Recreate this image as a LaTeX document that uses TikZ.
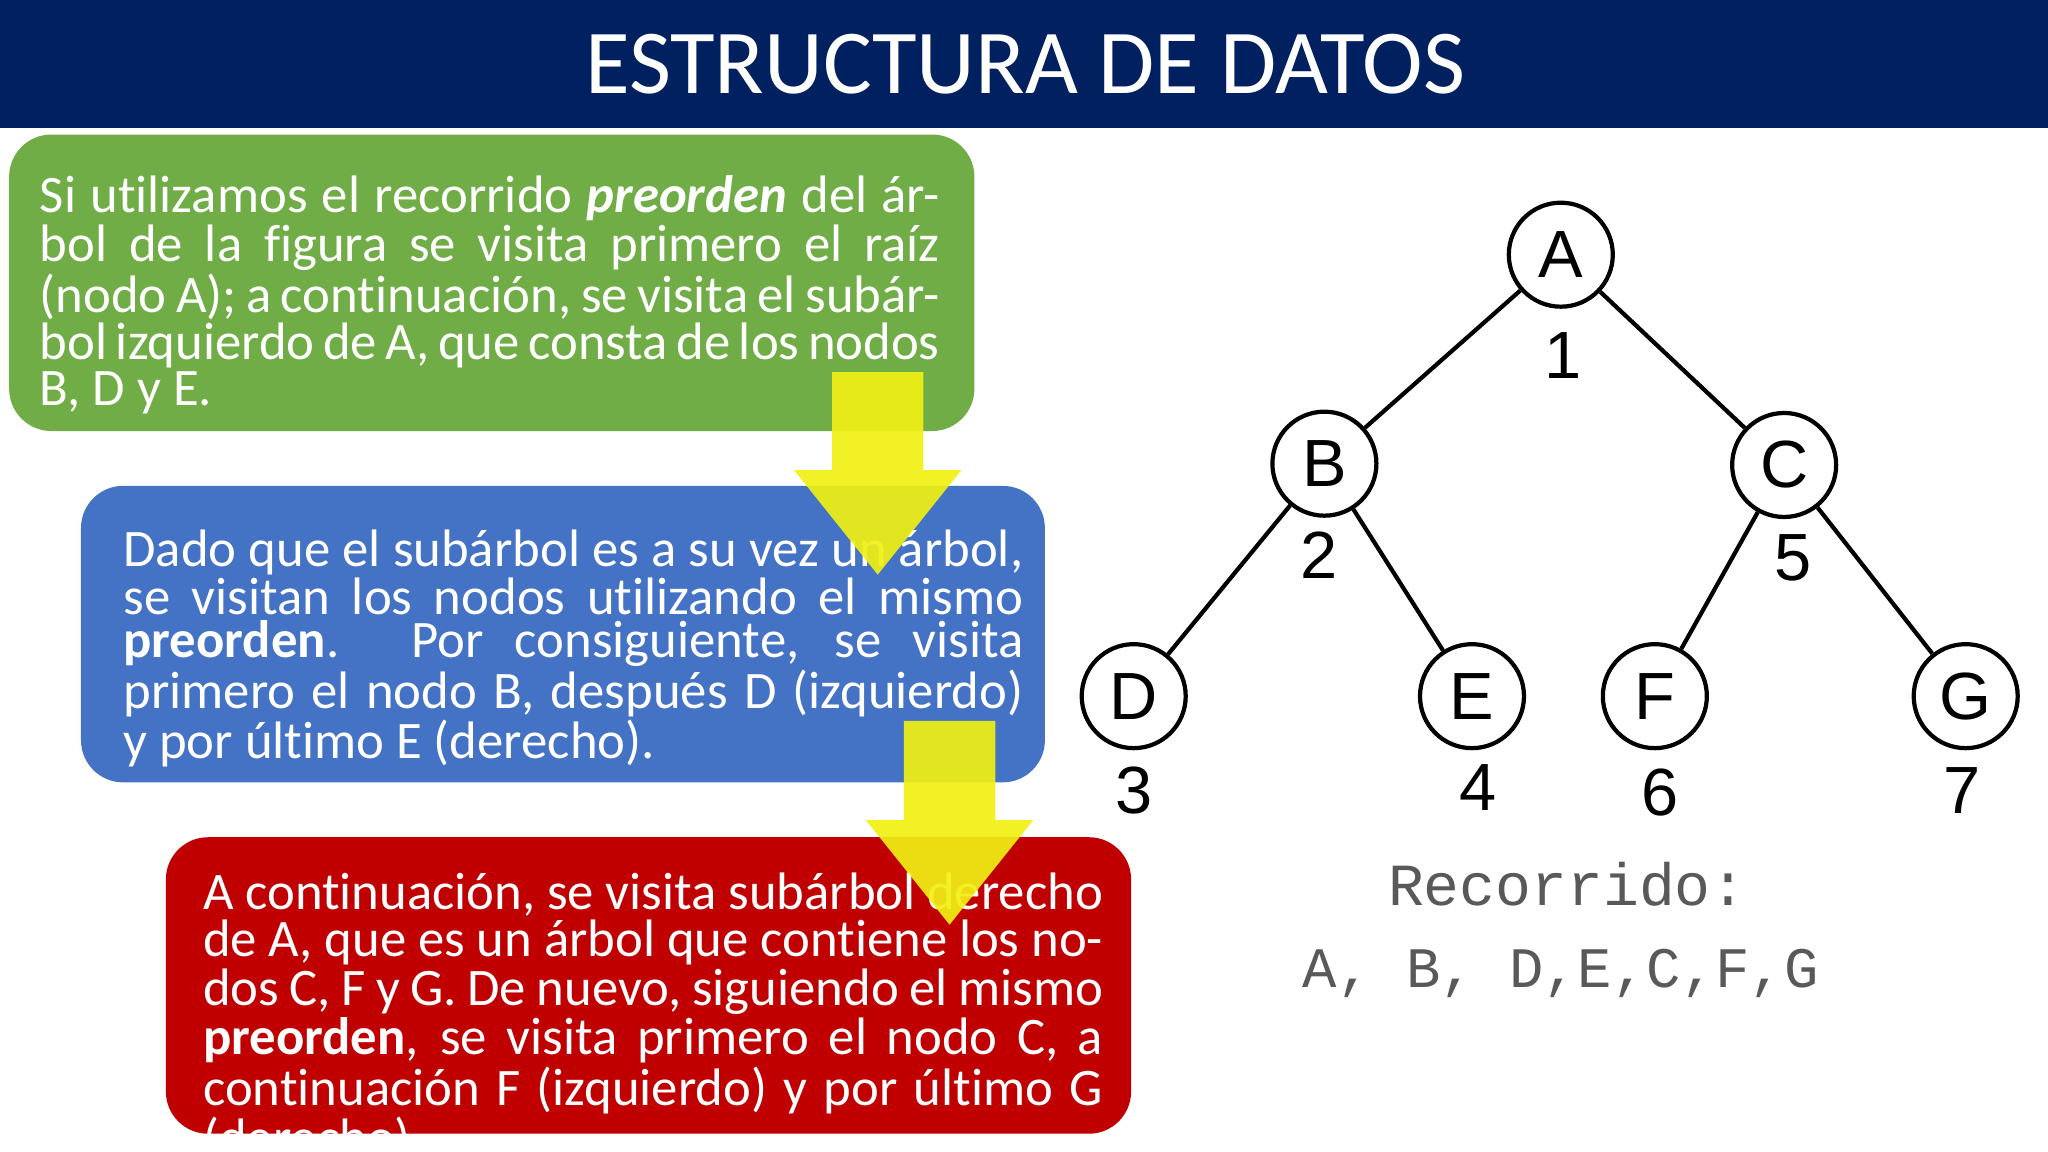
\documentclass[tikz,border=0pt]{standalone}
\usepackage{fontspec}
\setmainfont[Ligatures={NoCommon}]{Carlito}
\newfontfamily\treefont{Liberation Sans}
\newfontfamily\monofont{Liberation Mono}
\usetikzlibrary{positioning}
\definecolor{navy}{RGB}{0,32,96}
\definecolor{boxgreen}{RGB}{112,173,71}
\definecolor{boxblue}{RGB}{68,114,196}
\definecolor{boxred}{RGB}{192,0,0}
\definecolor{arrowyellow}{RGB}{240,240,20}
\newcommand\boxfont{\fontsize{15}{12.5}\selectfont\hyphenpenalty=10000 \exhyphenpenalty=10000 }
\begin{document}
\begin{tikzpicture}[x=0.01306cm,y=-0.01306cm]
        \tikzstyle{textbox}=[rounded corners=12pt,draw=none]
        \tikzstyle{boxtext}=[anchor=north west,inner sep=0pt,text=white,text width=9.0cm,align=justify]
        \tikzstyle{treenode}=[circle,draw=black,line width=1.2pt,fill=white,minimum size=1.04cm,inner sep=0pt,font=\treefont\fontsize{19}{19}\selectfont]
        \tikzstyle{order}=[font=\treefont\fontsize{19}{19}\selectfont]
        \tikzstyle{bigarrow}=[fill=arrowyellow,opacity=0.92,draw=none]

        \useasboundingbox (0,0) rectangle (1568,882);
        \fill[white] (0,0) rectangle (1568,882);

        % title
        \fill[navy] (0,0) rectangle (1568,98);
        \node (title) at (785,49) {\fontsize{26}{26}\selectfont\color{white}ESTRUCTURA DE DATOS};

        % text boxes
        \fill[textbox,boxgreen] (7,103) rectangle (746,330);
        \node[boxtext] (t1) at (30,134) {\boxfont Si utilizamos el recorrido \textbf{\textit{preorden}} del árbol de la figura se visita primero el raíz (nodo A); a continuación, se visita el subárbol izquierdo de A, que consta de los nodos B, D y E.};
        \fill[textbox,boxblue] (62,372) rectangle (800,599);
        \node[boxtext] (t2) at (94,405) {\boxfont Dado que el subárbol es a su vez un árbol, se visitan los nodos utilizando el mismo \textbf{preorden}. Por consiguiente, se visita primero el nodo B, después D (izquierdo) y por último E (derecho).};
        \fill[textbox,boxred] (127,641) rectangle (866,868);
        \node[boxtext] (t3) at (155,668) {\boxfont A continuación, se visita subárbol derecho de A, que es un árbol que contiene los nodos C, F y G. De nuevo, siguiendo el mismo \textbf{preorden}, se visita primero el nodo C, a continuación F (izquierdo) y por último G (derecho).};

        % arrows
        \fill[bigarrow] (637,285) -- (707,285) -- (707,360) -- (736,360) -- (672,440) -- (608,360) -- (637,360) -- cycle;
        \fill[bigarrow] (692,552) -- (762,552) -- (762,628) -- (791,628) -- (727,708) -- (663,628) -- (692,628) -- cycle;

        % tree
        \node[treenode] (a) at (1195,195) {A};
        \node[treenode] (b) at (1014,355) {B};
        \node[treenode] (c) at (1366,356) {C};
        \node[treenode] (d) at (868,533) {D};
        \node[treenode] (e) at (1127,533) {E};
        \node[treenode] (f) at (1267,533) {F};
        \node[treenode] (g) at (1505,533) {G};
        \draw[line width=1.2pt] (a) -- (b);
        \draw[line width=1.2pt] (a) -- (c);
        \draw[line width=1.2pt] (b) -- (d);
        \draw[line width=1.2pt] (b) -- (e);
        \draw[line width=1.2pt] (c) -- (f);
        \draw[line width=1.2pt] (c) -- (g);

        \node[order] (n1) at (1197,272) {1};
        \node[order] (n2) at (1010,425) {2};
        \node[order] (n5) at (1373,427) {5};
        \node[order] (n3) at (868,605) {3};
        \node[order] (n4) at (1132,603) {4};
        \node[order] (n6) at (1271,607) {6};
        \node[order] (n7) at (1502,605) {7};

        \node[font=\monofont\fontsize{17}{17}\selectfont,text=black!65] (rec) at (1200,677) {Recorrido:};
        \node[font=\monofont\fontsize{16.3}{16}\selectfont,text=black!65] (seq) at (1195,745) {A, B, D,E,C,F,G};
    \end{tikzpicture}
\end{document}
